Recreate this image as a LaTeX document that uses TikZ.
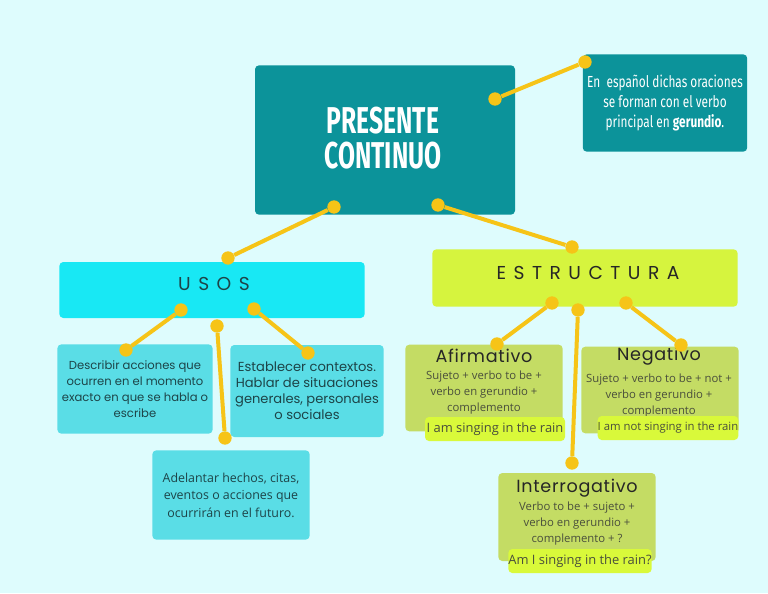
\documentclass[tikz,border=0pt]{standalone}
\usepackage{fontspec}
\setmainfont{Open Sans}
\newfontfamily\bigfont[FakeStretch=0.66]{Fira Sans}
\newfontfamily\notefont[FakeStretch=0.74]{Fira Sans}
\newfontfamily\headfont{Poppins}
\usetikzlibrary{positioning}
\definecolor{bgcyan}{HTML}{DEFCFD}
\definecolor{mainteal}{HTML}{0C939A}
\definecolor{dotyel}{HTML}{F6C417}
\definecolor{usocyan}{HTML}{18E8F4}
\definecolor{usobox}{HTML}{5ADDE6}
\definecolor{estlime}{HTML}{D6F43E}
\definecolor{estbox}{HTML}{C4DC64}
\definecolor{hilime}{HTML}{D9F93A}
\definecolor{usotext}{HTML}{1D4448}
\definecolor{esttext}{HTML}{4A4F3C}

\begin{document}
\begin{tikzpicture}[x=0.75pt,y=-0.75pt,
rough/.style={rounded corners=3pt},
big/.style={rough,fill=mainteal,text=white,align=center},
bigtxt/.style={text=white,inner sep=0pt,font=\bigfont\bfseries\fontsize{28}{28}\selectfont},
head/.style={rough,minimum width=229pt,minimum height=42pt},
headtxt/.style={font=\headfont\fontsize{14}{16}\selectfont\addfontfeature{LetterSpace=40}},
usobx/.style={rough,fill=usobox,minimum width=116pt,minimum height=67pt,align=center,text=usotext,font=\headfont\fontsize{8.7}{12}\selectfont},
estbx/.style={rough,fill=estbox,minimum width=118pt,minimum height=65pt},
ttl/.style={font=\headfont\fontsize{13.2}{14}\selectfont\addfontfeature{LetterSpace=4},text=black!85,inner sep=0pt},
body/.style={font=\fontsize{8.5}{12}\selectfont,text=esttext,align=center,inner sep=0pt},
hl/.style={rough,fill=hilime,minimum width=105pt,minimum height=18pt,inner sep=0pt,font=\fontsize{9.7}{11}\selectfont,text=esttext},
dot/.style={circle,fill=dotyel,minimum size=10pt,inner sep=0pt},
link/.style={draw=dotyel,line width=3pt}]
\fill[bgcyan] (0,0) rectangle (768,593);
\useasboundingbox (0,0) rectangle (768,593);

% top
\node[big,minimum width=195pt,minimum height=112pt] (pc) at (385,140) {};
\node[bigtxt] (pcT1) at (383,121) {PRESENTE};
\node[bigtxt] (pcT2) at (383,156) {CONTINUO};
\node[big,minimum width=123pt,minimum height=73pt,font=\notefont\fontsize{12}{15}\selectfont] (nota) at (665,103)
  {En\ \ español dichas oraciones\\se forman con el verbo\\principal en \textbf{gerundio}.};

% usos / estructura
\node[head,fill=usocyan] (usos) at (212,290) {};
\node[headtxt,text=usotext] (usosT) at (214,284) {USOS};
\node[head,fill=estlime,minimum height=43pt] (est) at (585,278) {};
\node[headtxt,text=black!85] (estT) at (588,273) {ESTRUCTURA};

\node[usobx] (desc) at (135,389) {Describir acciones que\\ocurren en el momento\\exacto en que se habla o\\escribe};
\node[usobx,minimum width=115pt,minimum height=69pt,font=\headfont\fontsize{9.8}{12}\selectfont] (ctx) at (307,391) {Establecer contextos.\\Hablar de situaciones\\generales, personales\\o sociales};
\node[usobx,minimum width=118pt,font=\fontsize{9.3}{13.2}\selectfont] (fut) at (231,495) {Adelantar hechos, citas,\\eventos o acciones que\\ocurrirán en el futuro.};

\node[estbx] (afi) at (484,388) {};
\node[ttl] (afiT) at (484,356) {Afirmativo};
\node[body,below=6pt of afiT] (afiB) {Sujeto + verbo to be +\\verbo en gerundio +\\complemento};
\node[hl] (afiE) at (495,429) {I am singing in the rain};

\node[estbx] (neg) at (660,390) {};
\node[ttl] (negT) at (659,356) {Negativo};
\node[body,below=6pt of negT] (negB) {Sujeto + verbo to be + not +\\verbo en gerundio +\\complemento};
\node[hl,font=\fontsize{8.5}{11}\selectfont] (negE) at (668,428) {I am not singing in the rain};

\node[estbx,minimum height=66pt] (int) at (577,517) {};
\node[ttl] (intT) at (577,488) {Interrogativo};
\node[body,below=3pt of intT] (intB) {Verbo to be + sujeto +\\verbo en gerundio +\\complemento + ?};
\node[hl] (intE) at (580,561) {Am I singing in the rain?};

% dots
\node[dot] (m1) at (495,99) {};  \node[dot] (n1) at (585,62) {};
\node[dot] (m2) at (334,207) {}; \node[dot] (u0) at (228,258) {};
\node[dot] (m3) at (438,205) {}; \node[dot] (e0) at (572,247) {};
\node[dot] (u1) at (181,310) {}; \node[dot] (d1) at (126,350) {};
\node[dot] (u2) at (217,326) {}; \node[dot] (d2) at (225,438) {};
\node[dot] (u3) at (254,309) {}; \node[dot] (d3) at (308,353) {};
\node[dot] (e1) at (552,303) {}; \node[dot] (f1) at (497,344) {};
\node[dot] (e2) at (578,310) {}; \node[dot] (f2) at (572,463) {};
\node[dot] (e3) at (626,303) {}; \node[dot] (f3) at (681,345) {};

% links
\draw[link] (m1)--(n1);
\draw[link] (m2)--(u0); \draw[link] (m3)--(e0);
\draw[link] (u1)--(d1); \draw[link] (u2)--(d2); \draw[link] (u3)--(d3);
\draw[link] (e1)--(f1); \draw[link] (e2)--(f2); \draw[link] (e3)--(f3);
\end{tikzpicture}
\end{document}
